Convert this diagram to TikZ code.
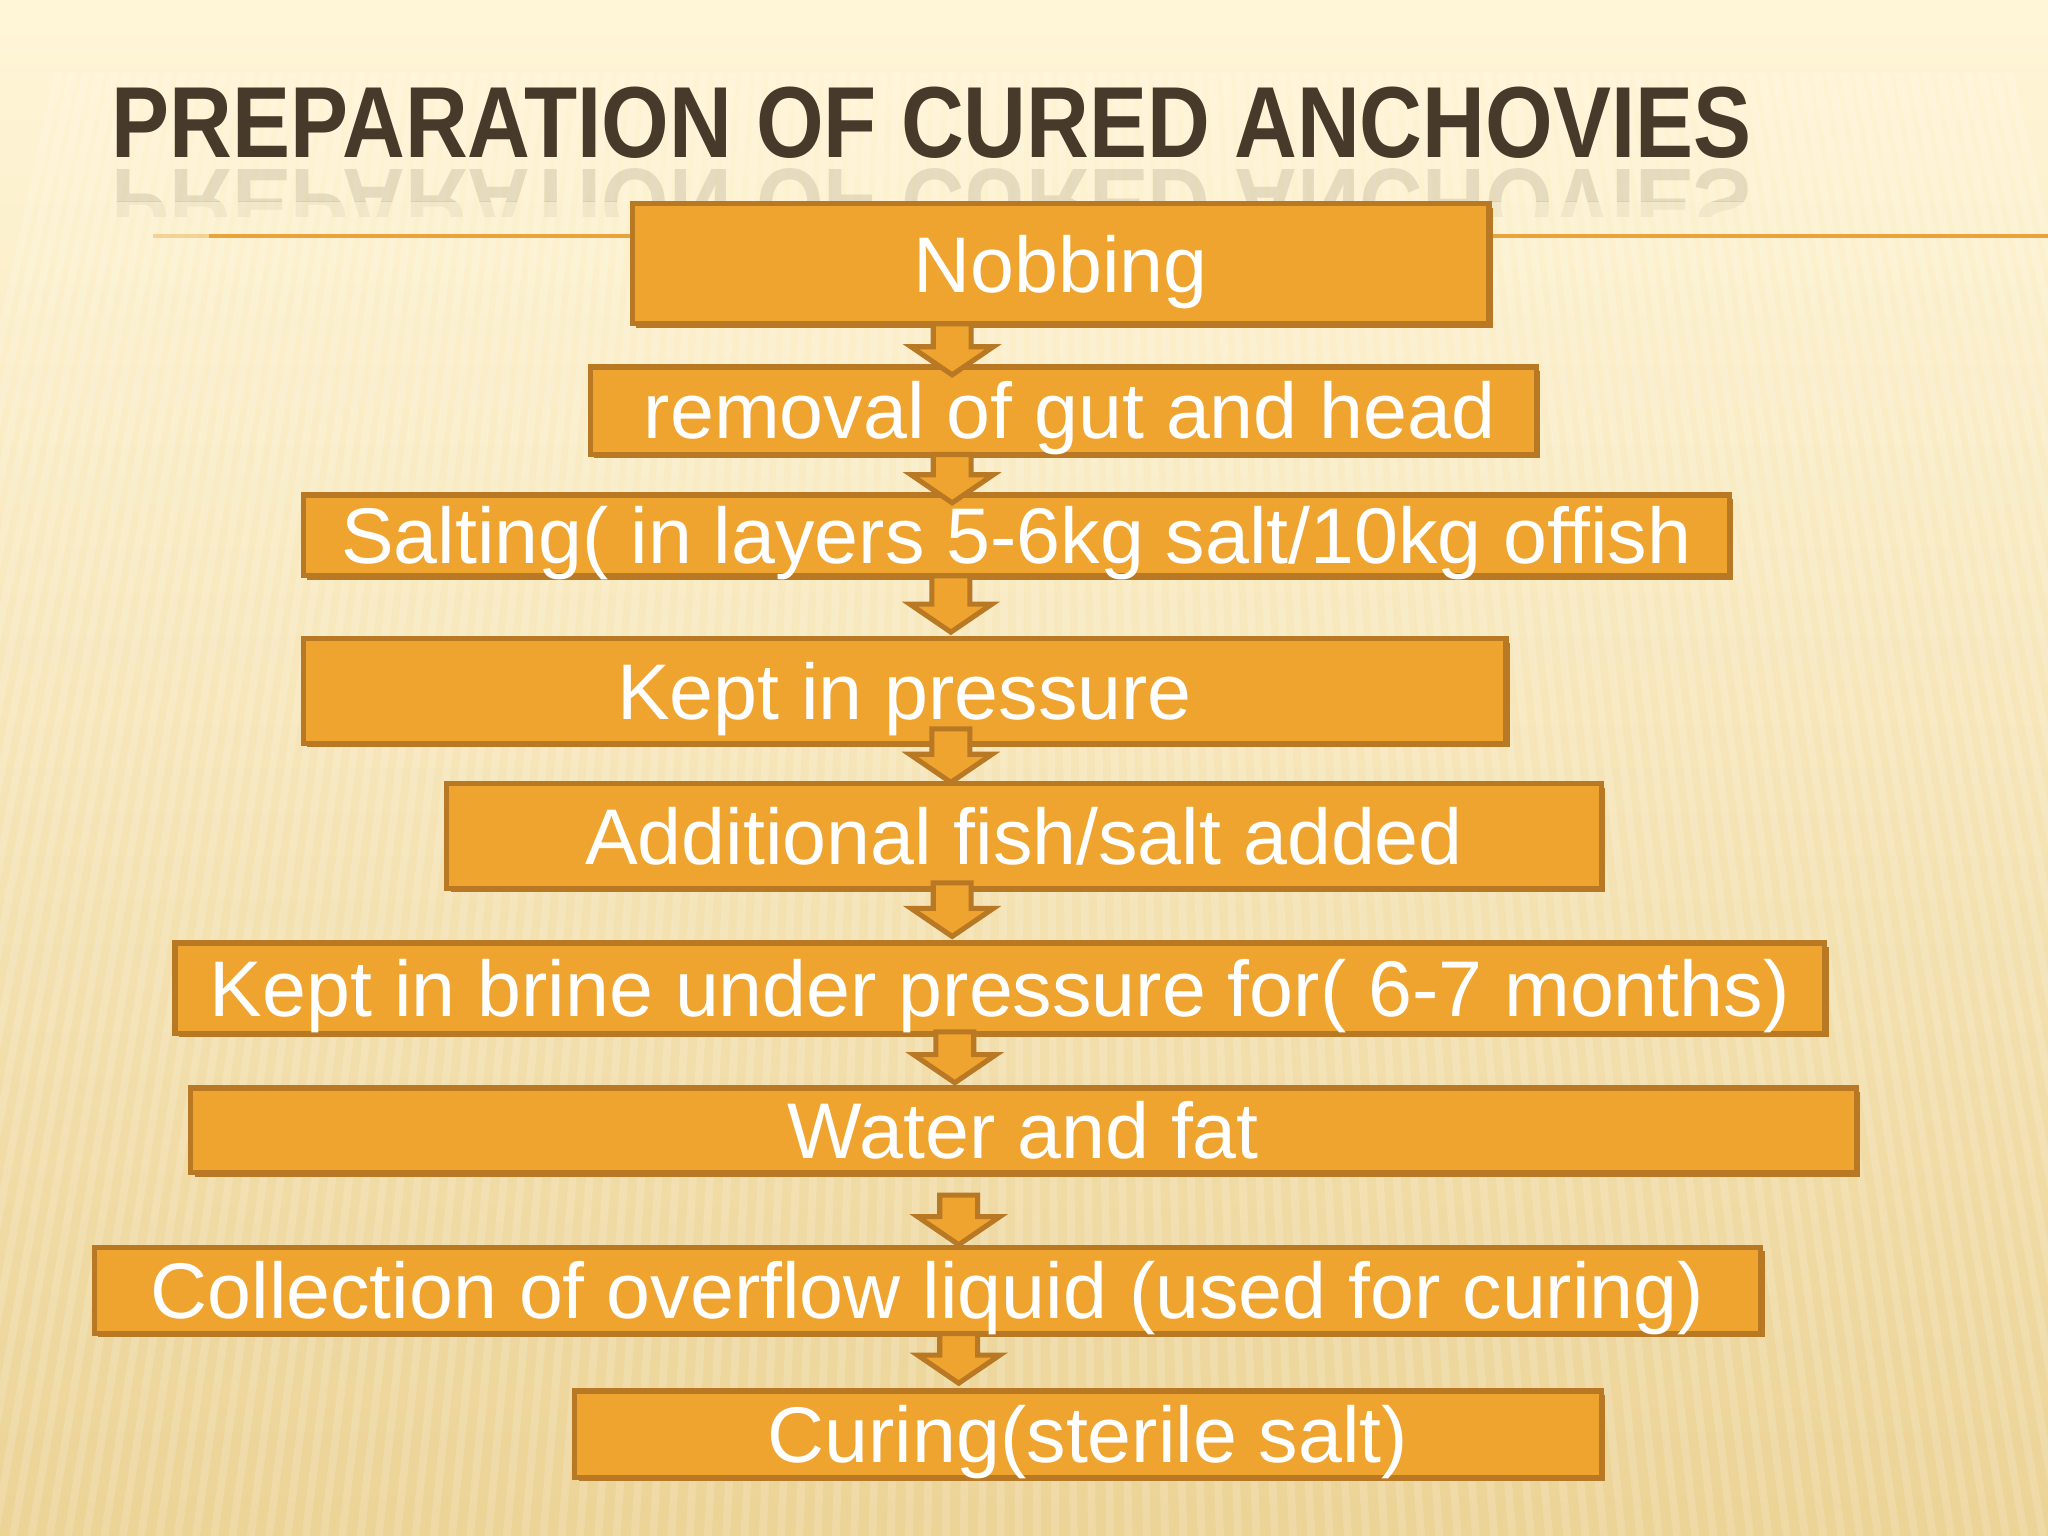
\documentclass[tikz,border=0pt]{standalone}
\usepackage{fontspec}
\setmainfont{Liberation Sans}
\usetikzlibrary{calc,shadows}

\definecolor{bgtop}{RGB}{255,246,216}
\definecolor{bgmid}{RGB}{250,234,186}
\definecolor{bgbot}{RGB}{236,211,150}
\definecolor{boxfill}{RGB}{239,164,48}
\definecolor{boxline}{RGB}{184,120,36}
\definecolor{titlecol}{RGB}{72,58,42}
\definecolor{rulecol}{RGB}{232,163,58}

\tikzset{
	stepbox/.style={draw=boxline, fill=boxfill, line width=1.1pt, inner sep=0pt, outer sep=0pt,
		text=white, font=\fontsize{17.2}{20}\selectfont, text height=12.3pt, text depth=0pt,
		drop shadow={shadow xshift=0.3mm, shadow yshift=-0.3mm, fill=boxline, opacity=1}},
	flowarrow/.style={draw=boxline, fill=boxfill, line width=1.1pt, line join=miter},
	stripe/.style={white, opacity=.16, line width=0.06cm}
}

% block arrow: x, start anchor, shift, end anchor, shift
\newcommand\flowarrow[5]{%
	\path (#2) ++(0,#3) coordinate (fat);
	\path (#4) ++(0,#5) coordinate (fab);
	\coordinate (fatop) at (fat -| #1,0);
	\coordinate (fatip) at (fab -| #1,0);
	\draw[flowarrow] ($(fatop)+(-0.145,0)$) -- ($(fatip)+(-0.145,0.215)$) -- ($(fatip)+(-0.315,0.215)$) -- (fatip)
		-- ($(fatip)+(0.315,0.215)$) -- ($(fatip)+(0.145,0.215)$) -- ($(fatop)+(0.145,0)$) -- cycle;}

\newcommand\titletext{\resizebox{12.55cm}{0.54cm}{\bfseries PREPARATION OF CURED ANCHOVIES}}

\begin{document}
\begin{tikzpicture}
			%%%%% BACKGROUND %%%%%
			\useasboundingbox (0,0) rectangle (15.68,11.76);
			\shade[top color=bgtop, middle color=bgmid, bottom color=bgbot] (0,0) rectangle (15.68,11.76);
			\begin{scope}
				\clip (0,0) rectangle (15.68,11.2);
				\foreach \xb in {-2,-1.86,...,18}
					\draw[stripe] (7.84,45) -- (\xb,0);
			\end{scope}
			
			\draw[rulecol, line width=0.03cm, opacity=.4] (1.17,9.95) -- (1.6,9.95);
			\draw[rulecol, line width=0.03cm] (1.6,9.95) -- (15.68,9.95);
			
			%%%%% TITLE %%%%%
			\node[anchor=south west, inner sep=0pt, text=titlecol] (title) at (0.85,10.54) {\titletext};
			\begin{scope}
				\clip (0,10.22) rectangle (15.68,10.50);
				\node[anchor=north west, inner sep=0pt, text=titlecol, opacity=.13] (titlemirror) at (0.85,10.48)
					{\scalebox{1}[-1]{\titletext}};
			\end{scope}
			\begin{scope}
				\clip (0,10.10) rectangle (15.68,10.22);
				\node[anchor=north west, inner sep=0pt, text=titlecol, opacity=.06] at (0.85,10.48)
					{\scalebox{1}[-1]{\titletext}};
			\end{scope}
			
			%%%%% STEPS %%%%%
			\node[stepbox, minimum width=6.56cm, minimum height=0.92cm] (nob) at (8.12,9.74) {Nobbing};
			\node[stepbox, minimum width=7.24cm, minimum height=0.67cm] (rem) at (8.14,8.615) {\hspace{0.1cm}removal of gut and head};
			\node[stepbox, minimum width=10.92cm, minimum height=0.62cm] (salt) at (7.78,7.66) {Salting( in layers 5-6kg salt/10kg offish};
			\node[stepbox, minimum width=9.21cm, minimum height=0.80cm] (press) at (6.925,6.47) {Kept in pressure};
			\node[stepbox, minimum width=8.84cm, minimum height=0.80cm] (add) at (7.84,5.36) {Additional fish/salt added};
			\node[stepbox, minimum width=12.63cm, minimum height=0.69cm] (brine) at (7.655,4.195) {Kept in brine under pressure for( 6-7 months)};
			\node[stepbox, minimum width=12.75cm, minimum height=0.65cm] (water) at (7.835,3.105) {Water and fat};
			\node[stepbox, minimum width=12.76cm, minimum height=0.66cm] (coll) at (7.10,1.88) {Collection of overflow liquid (used for curing)};
			\node[stepbox, minimum width=7.86cm, minimum height=0.66cm] (cur) at (8.33,0.78) {Curing(sterile salt)};
			
			%%%%% ARROWS %%%%%
			\foreach \a/\b/\x/\da/\db in {nob/rem/7.29/0/-0.06, rem/salt/7.29/0/-0.06, salt/press/7.28/0/0.05,
				press/add/7.28/0.11/0.01, add/brine/7.29/0.04/0.05, brine/water/7.31/0.01/0.04,
				water/coll/7.34/-0.17/0.02, coll/cur/7.34/0/0.06}
				\flowarrow{\x}{\a.south}{\da}{\b.north}{\db};
			
\end{tikzpicture}
\end{document}
